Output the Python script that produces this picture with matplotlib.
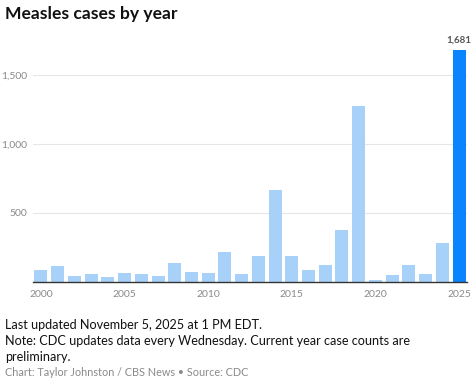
import numpy as np
import matplotlib.pyplot as plt

# ── DATA ──────────────────────────────────────────────────────────────────
years = np.arange(2000, 2026)
cases = [86, 116, 44, 56, 37, 66, 55, 43, 140, 71, 63, 220, 55, 187, 667,
         188, 86, 120, 375, 1274, 13, 49, 121, 59, 285, 1681]
y_ticks = [500, 1000, 1500]
x_tick_years = [2000, 2005, 2010, 2015, 2020, 2025]

plt.rcParams['font.family'] = ['Lato', 'DejaVu Sans']

LIGHT = '#a8d1fa'
DARK = '#0a84ff'

fig = plt.figure(figsize=(4.74, 3.85), dpi=100)
ax = fig.add_axes([32.6 / 474, 103 / 385, (467.4 - 32.6) / 474, 241.5 / 385])

colors = [DARK if y == years[-1] else LIGHT for y in years]
ax.bar(years, cases, width=0.78, color=colors, zorder=3)

ax.set_xlim(years[0] - 0.5, years[-1] + 0.5)
ax.set_ylim(0, 1750)
ax.set_yticks(y_ticks)
ax.set_yticklabels([f"{v:,}" for v in y_ticks])
ax.set_xticks(x_tick_years)
ax.set_xticklabels([str(y) for y in x_tick_years])
ax.tick_params(axis='both', length=0, labelsize=7.5, labelcolor='#8a8a8a')
ax.tick_params(axis='y', pad=4)
ax.tick_params(axis='x', pad=6)
ax.grid(axis='y', color='#e6e6e6', linewidth=0.8, zorder=0)

for s in ['top', 'right', 'left']:
    ax.spines[s].set_visible(False)
ax.spines['bottom'].set_color('#333333')
ax.spines['bottom'].set_linewidth(1.0)
ax.spines['bottom'].set_zorder(4)

ax.text(years[-1], cases[-1] + 40, f"{cases[-1]:,}", ha='center', va='bottom',
        fontsize=7, color='#555555', fontweight='bold')

# ── TEXT ──────────────────────────────────────────────────────────────────
fig.text(5 / 474, 1 - 14 / 385, "Measles cases by year", fontsize=12.6,
         fontweight='bold', color='#111111', va='center', ha='left')
fig.text(5 / 474, 1 - 325 / 385, "Last updated November 5, 2025 at 1 PM EDT.",
         fontsize=9.1, color='#111111', va='center')
fig.text(5 / 474, 1 - 341 / 385,
         "Note: CDC updates data every Wednesday. Current year case counts are",
         fontsize=9.1, color='#111111', va='center')
fig.text(5 / 474, 1 - 357 / 385, "preliminary.",
         fontsize=9.1, color='#111111', va='center')
fig.text(5 / 474, 1 - 373 / 385,
         "Chart: Taylor Johnston / CBS News \u2022 Source: CDC",
         fontsize=7.8, color='#8a8a8a', va='center')

plt.savefig("out.png", dpi=100)
